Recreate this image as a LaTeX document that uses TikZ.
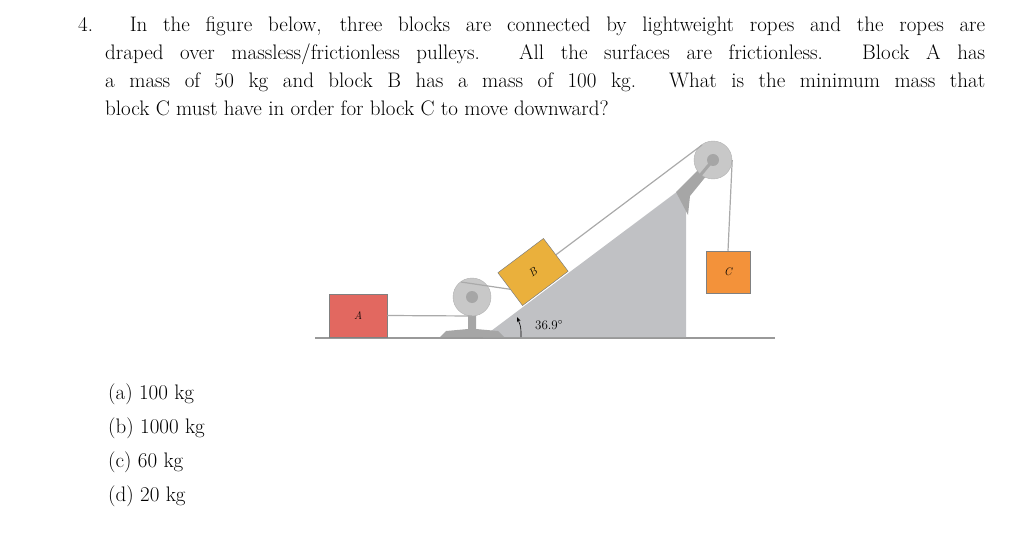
\documentclass[tikz,border=0pt]{standalone}
\usetikzlibrary{arrows.meta,calc}
\definecolor{wedge}{RGB}{192,193,196}
\definecolor{redA}{RGB}{226,104,96}
\definecolor{yelB}{RGB}{234,176,60}
\definecolor{orC}{RGB}{243,146,58}
\definecolor{rope}{RGB}{170,170,170}
\definecolor{pul}{RGB}{200,200,200}
\tikzset{txt/.style={anchor=base west,inner sep=0pt,font=\fontsize{21}{25}\selectfont},
 blk/.style={draw=black!50,line width=0.5pt,font=\itshape\fontsize{11}{12}\selectfont},
 rp/.style={draw=rope,line width=1.2pt},
 pulley/.style={circle,fill=pul,draw=black!30,minimum size=38pt,inner sep=0pt}}
\begin{document}
\begin{tikzpicture}[x=1pt,y=-1pt]
\useasboundingbox (0,0) rectangle (1024,556);
\node[txt] (l1) at (78,32) {\makebox[907pt][s]{4. In the figure below, three blocks are connected by lightweight ropes and the ropes are}};
\node[txt] (l2) at (105,60) {\makebox[880pt][s]{draped over massless/frictionless pulleys. All the surfaces are frictionless. Block A has}};
\node[txt] (l3) at (105,88) {\makebox[880pt][s]{a mass of 50 kg and block B has a mass of 100 kg. What is the minimum mass that}};
\node[txt] (l4) at (105,116) {block C must have in order for block C to move downward?};
\node[txt] (oa) at (108,399) {(a) 100 kg};
\node[txt] (ob) at (108,433) {(b) 1000 kg};
\node[txt] (oc) at (108,467) {(c) 60 kg};
\node[txt] (od) at (108,501) {(d) 20 kg};
% ground
\draw[black!40,line width=1.5pt] (315,338) -- (775,338);
% wedge
\fill[wedge] (483,337) -- (686,185) -- (686,337) -- cycle;
% big pulley arm
\fill[black!35] (676,192) -- (710,158) -- (716,164) -- (690,196) -- (688,215) -- cycle;
% small pulley stand
\fill[black!35] (440,337) -- (446,331) -- (468,329) -- (468,300) -- (476,300) -- (476,329) -- (498,331) -- (504,337) -- cycle;
\node[pulley] (p1) at (472,297) {};
\fill[black!35] (p1) circle (6pt);
\node[pulley] (p2) at (713,160) {};
\fill[black!35] (p2) circle (6pt);
\draw[black!35,line width=3pt] (p2.center) -- (688,190);
% blocks
\node[blk,fill=redA,minimum width=58pt,minimum height=43pt] (A) at (358,315.5) {A};
\node[blk,fill=yelB,minimum width=57pt,minimum height=41pt,rotate=36.9] (B) at (533,272) {B};
\node[blk,fill=orC,minimum width=44pt,minimum height=42pt] (C) at (728,272) {C};
% ropes
\draw[rp] (A.east) -- (472,316);
\draw[rp] (B.west) -- ($(p1.center)+(-11,-15)$);
\draw[rp] (B.east) -- ($(p2.center)+(-11,-15)$);
\draw[rp] (p2.east) -- (C.north);
% angle
\coordinate (a0) at (521,337);
\coordinate (a1) at (517,317);
\draw[-{Stealth[length=5pt]},black,line width=0.6pt] (a0) .. controls (521,327) .. (a1);
\node[anchor=west,inner sep=0pt,font=\fontsize{13}{14}\selectfont] (ang) at (535,325) {36.9$^\circ$};
\end{tikzpicture}
\end{document}
